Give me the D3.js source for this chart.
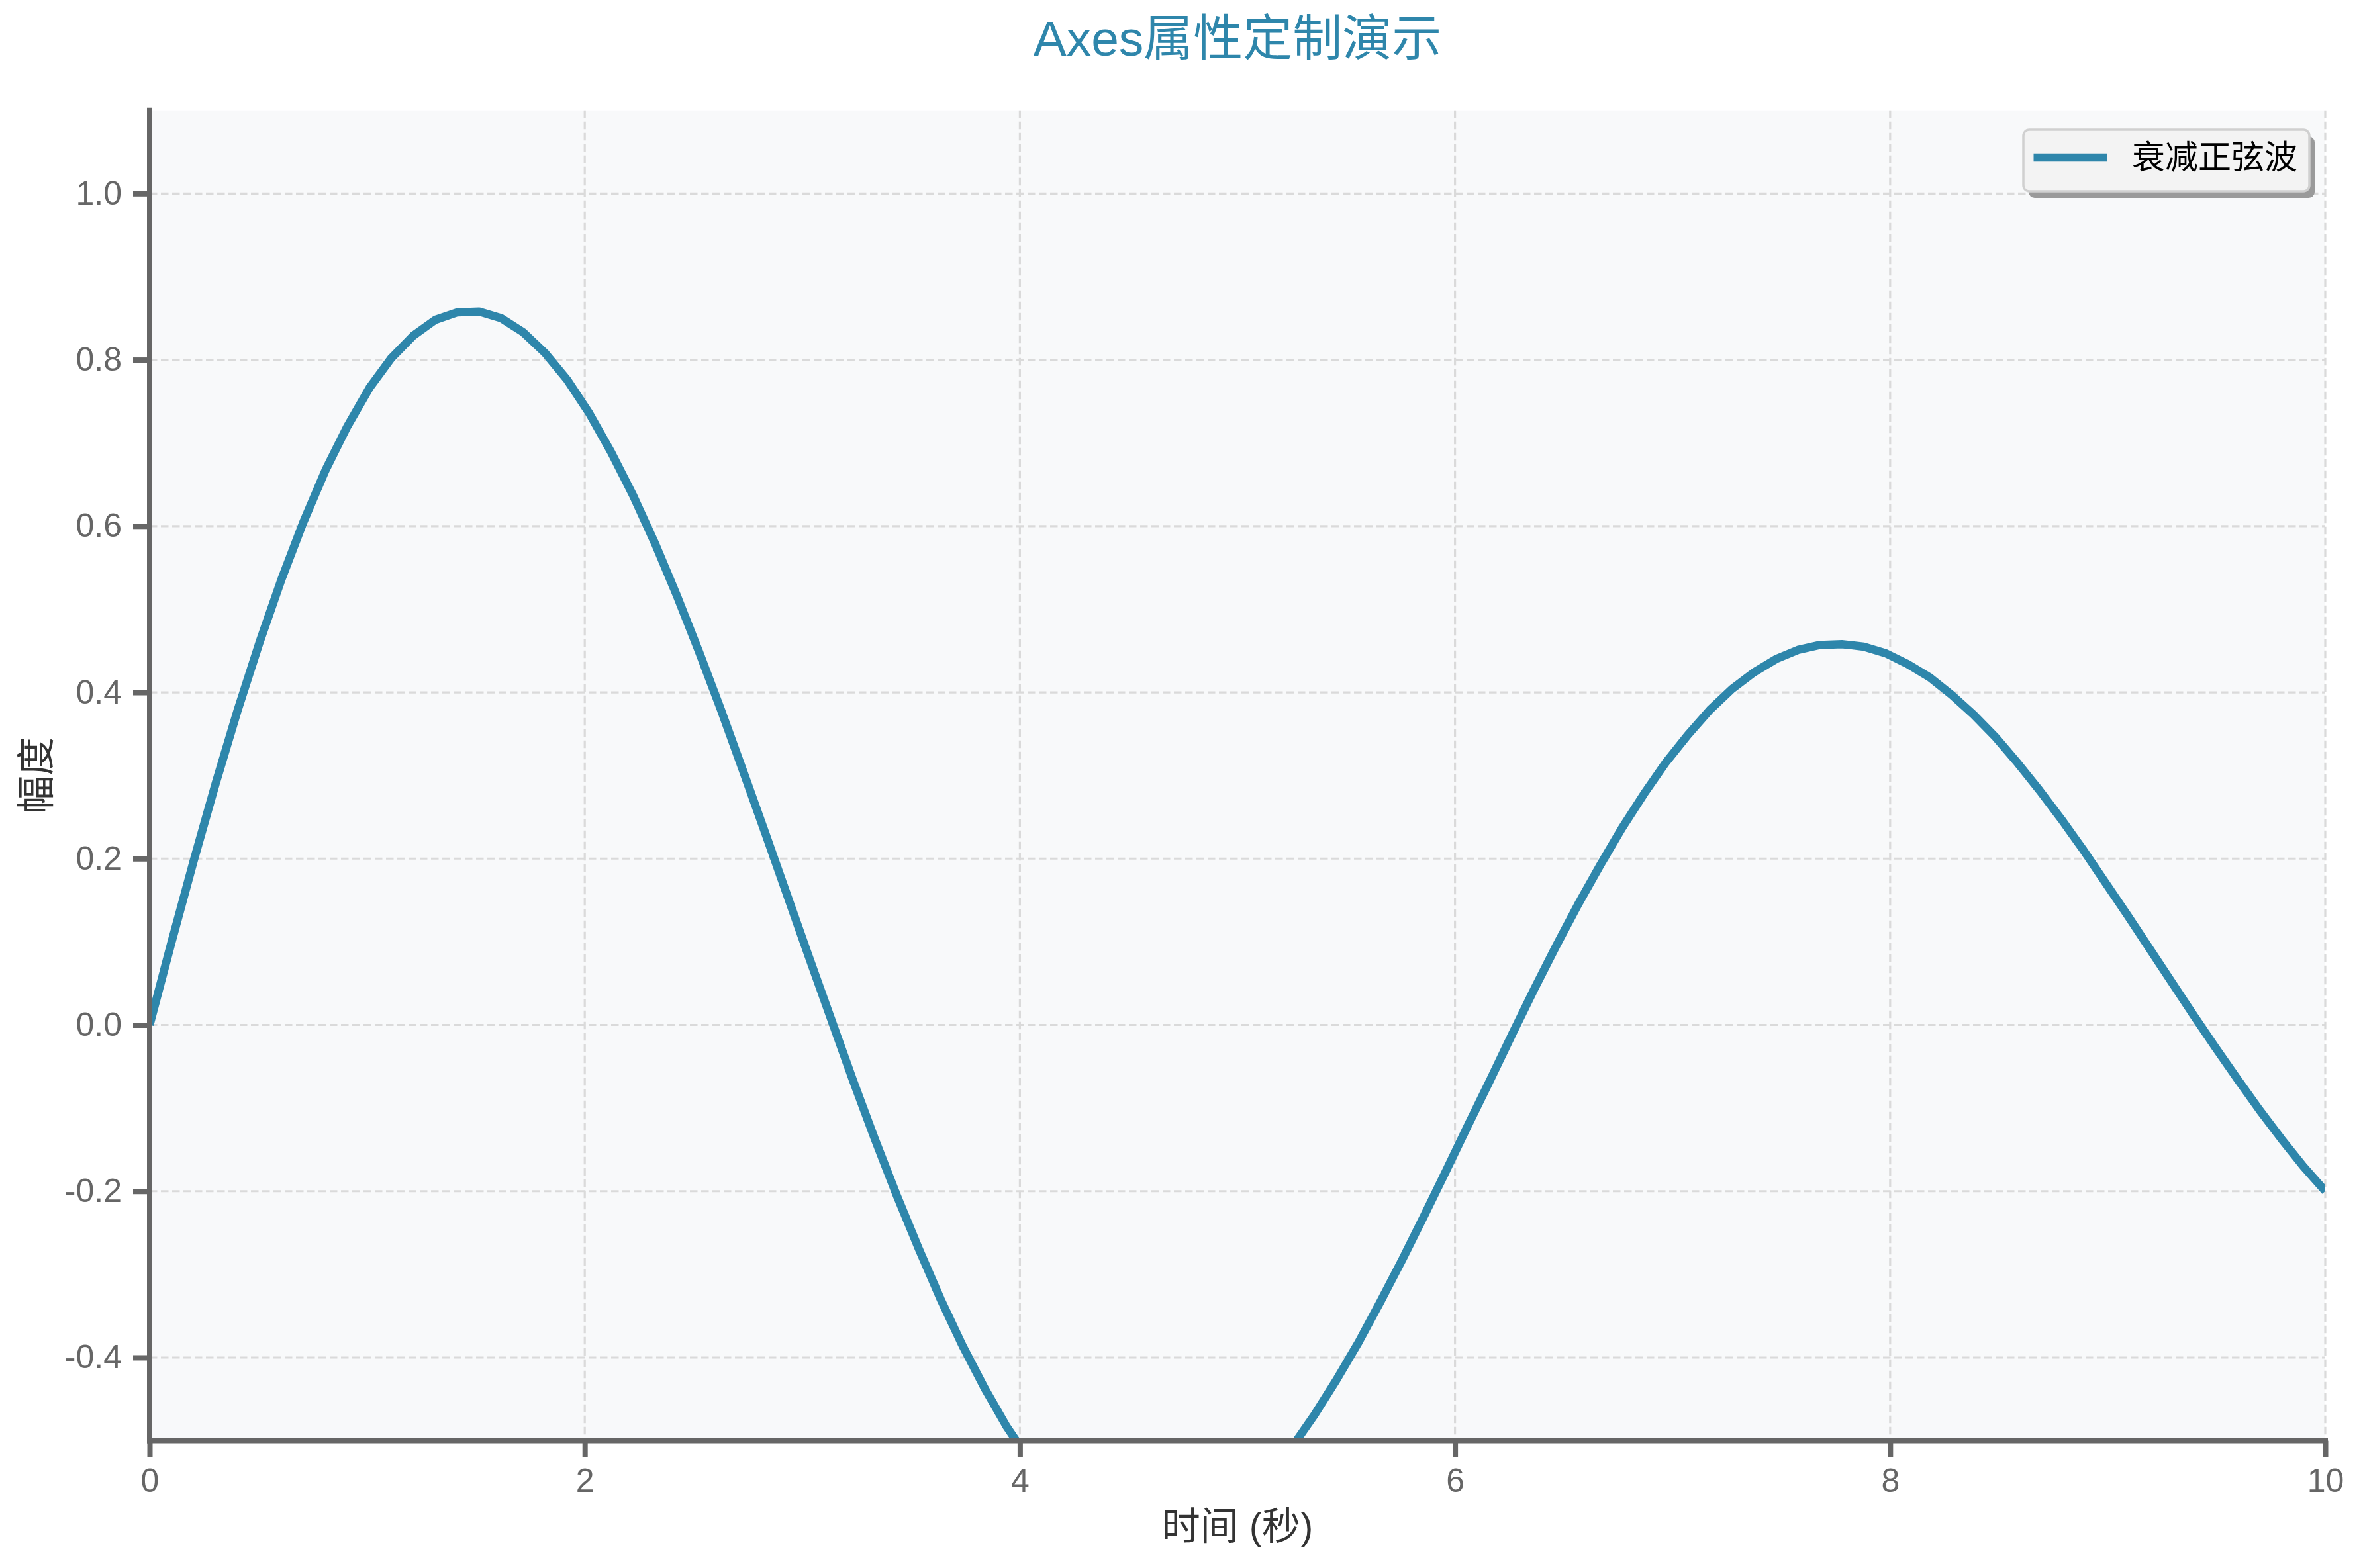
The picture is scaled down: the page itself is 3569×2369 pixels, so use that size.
<!DOCTYPE html>
<html>
<head>
<meta charset="utf-8">
<script src="https://cdn.jsdelivr.net/npm/d3@7"></script>
<style>
  body { margin: 0; background: #ffffff; }
  svg { display: block; }
</style>
</head>
<body>
<script>
// data
var times = [0, 0.101, 0.202, 0.303, 0.404, 0.505, 0.606, 0.707, 0.808, 0.909,
  1.010, 1.111, 1.212, 1.313, 1.414, 1.515, 1.616, 1.717, 1.818, 1.919,
  2.020, 2.121, 2.222, 2.323, 2.424, 2.525, 2.626, 2.727, 2.828, 2.929,
  3.030, 3.131, 3.232, 3.333, 3.434, 3.535, 3.636, 3.737, 3.838, 3.939,
  4.040, 4.141, 4.242, 4.343, 4.444, 4.545, 4.646, 4.747, 4.848, 4.949,
  5.051, 5.152, 5.253, 5.354, 5.455, 5.556, 5.657, 5.758, 5.859, 5.960,
  6.061, 6.162, 6.263, 6.364, 6.465, 6.566, 6.667, 6.768, 6.869, 6.970,
  7.071, 7.172, 7.273, 7.374, 7.475, 7.576, 7.677, 7.778, 7.879, 7.980,
  8.081, 8.182, 8.283, 8.384, 8.485, 8.586, 8.687, 8.788, 8.889, 8.990,
  9.091, 9.192, 9.293, 9.394, 9.495, 9.596, 9.697, 9.798, 9.899, 10];
var amplitude = [0.000, 0.100, 0.197, 0.290, 0.378, 0.460, 0.536, 0.605, 0.667, 0.720,
  0.766, 0.802, 0.829, 0.848, 0.857, 0.858, 0.850, 0.833, 0.808, 0.776,
  0.736, 0.689, 0.637, 0.579, 0.516, 0.449, 0.379, 0.306, 0.232, 0.157,
  0.082, 0.008, -0.066, -0.137, -0.205, -0.269, -0.330, -0.386, -0.437, -0.483,
  -0.522, -0.556, -0.583, -0.604, -0.618, -0.626, -0.627, -0.622, -0.610, -0.593,
  -0.569, -0.541, -0.507, -0.469, -0.427, -0.382, -0.333, -0.282, -0.229, -0.175,
  -0.120, -0.066, -0.011, 0.043, 0.095, 0.145, 0.192, 0.237, 0.278, 0.316,
  0.349, 0.379, 0.404, 0.424, 0.440, 0.451, 0.457, 0.458, 0.455, 0.447,
  0.434, 0.418, 0.397, 0.373, 0.346, 0.315, 0.282, 0.247, 0.210, 0.171,
  0.132, 0.092, 0.052, 0.012, -0.027, -0.065, -0.102, -0.137, -0.170, -0.200];
var xTicks = [0, 2, 4, 6, 8, 10];
var yTicks = [-0.4, -0.2, 0.0, 0.2, 0.4, 0.6, 0.8, 1.0];
var seriesName = "衰减正弦波";
var titleText = "Axes属性定制演示";
var xLabel = "时间 (秒)";
var yLabel = "幅度";

var W = 3569, H = 2369;
var plotL = 226, plotR = 3512, plotT = 166.7, plotB = 2176.6;
var blue = "#2E86AB";
var spineCol = "#666666";
var font = "'Liberation Sans', Arial, 'Noto Sans CJK SC', sans-serif";

var x = d3.scaleLinear().domain([0, 10]).range([plotL, plotR]);
var y = d3.scaleLinear().domain([-0.5, 1.1]).range([plotB, plotT]);

var svg = d3.select("body")
  .append("svg")
  .attr("width", W)
  .attr("height", H);

svg.append("rect")
  .attr("width", W)
  .attr("height", H)
  .attr("fill", "#ffffff");

svg.append("defs")
  .append("clipPath")
  .attr("id", "plotclip")
  .append("rect")
  .attr("x", plotL)
  .attr("y", plotT)
  .attr("width", plotR - plotL)
  .attr("height", plotB - plotT);

//背景
svg.append("rect")
  .attr("x", plotL)
  .attr("y", plotT)
  .attr("width", plotR - plotL)
  .attr("height", plotB - plotT)
  .attr("fill", "#F8F9FA");

//グリッド
var grid = svg.append("g");
grid.selectAll("line.gy")
  .data(yTicks)
  .enter()
  .append("line")
  .attr("class", "gy")
  .attr("x1", plotL)
  .attr("x2", plotR)
  .attr("y1", function (d) { return y(d); })
  .attr("y2", function (d) { return y(d); });
grid.selectAll("line.gx")
  .data(xTicks)
  .enter()
  .append("line")
  .attr("class", "gx")
  .attr("x1", function (d) { return x(d); })
  .attr("x2", function (d) { return x(d); })
  .attr("y1", plotT)
  .attr("y2", plotB);
grid.selectAll("line")
  .attr("stroke", "#dadada")
  .attr("stroke-width", 3.2)
  .attr("stroke-dasharray", "11.5,5.5");

//曲線
var line = d3.line()
  .x(function (d, i) { return x(times[i]); })
  .y(function (d) { return y(d); });
svg.append("path")
  .datum(amplitude)
  .attr("clip-path", "url(#plotclip)")
  .attr("d", line)
  .attr("fill", "none")
  .attr("stroke", blue)
  .attr("stroke-width", 12.5)
  .attr("stroke-linejoin", "round")
  .attr("stroke-linecap", "butt");

//軸
var xAxis = d3.axisBottom(x)
  .tickValues(xTicks)
  .tickSize(25)
  .tickPadding(14)
  .tickFormat(d3.format("d"));
var gx = svg.append("g")
  .attr("transform", "translate(0," + plotB + ")")
  .call(xAxis);

var yAxis = d3.axisLeft(y)
  .tickValues(yTicks)
  .tickSize(25)
  .tickPadding(17)
  .tickFormat(function (d) { return d3.format(".1f")(d).replace("−", "-"); });
var gy = svg.append("g")
  .attr("transform", "translate(" + plotL + ",0)")
  .call(yAxis);

[gx, gy].forEach(function (g) {
  g.select(".domain").remove();
  g.selectAll(".tick line")
    .attr("stroke", spineCol)
    .attr("stroke-width", 8);
  g.selectAll(".tick text")
    .attr("fill", spineCol)
    .attr("font-family", font)
    .attr("font-size", "50px");
});
gx.selectAll(".tick text").attr("dy", "0.76em");

//スパイン
svg.append("line")
  .attr("x1", plotL)
  .attr("x2", plotL)
  .attr("y1", plotT - 4)
  .attr("y2", plotB + 4)
  .attr("stroke", spineCol)
  .attr("stroke-width", 8);
svg.append("line")
  .attr("x1", plotL - 4)
  .attr("x2", plotR + 4)
  .attr("y1", plotB)
  .attr("y2", plotB)
  .attr("stroke", spineCol)
  .attr("stroke-width", 8);

//タイトル・ラベル
svg.append("text")
  .text(titleText)
  .attr("x", (plotL + plotR) / 2)
  .attr("y", 84)
  .attr("text-anchor", "middle")
  .attr("fill", blue)
  .attr("font-family", font)
  .attr("font-size", "75px");

svg.append("text")
  .text(xLabel)
  .attr("x", (plotL + plotR) / 2)
  .attr("y", 2305)
  .attr("text-anchor", "middle")
  .attr("dominant-baseline", "central")
  .attr("fill", "#333333")
  .attr("font-family", font)
  .attr("font-size", "58px");

svg.append("text")
  .text(yLabel)
  .attr("transform", "translate(54," + (plotT + plotB) / 2 + ") rotate(-90)")
  .attr("text-anchor", "middle")
  .attr("dominant-baseline", "central")
  .attr("fill", "#333333")
  .attr("font-family", font)
  .attr("font-size", "58px");

//凡例
var lg = svg.append("g").attr("transform", "translate(3056,196)");
var lgW = 432, lgH = 93;
lg.append("rect")
  .attr("x", 8)
  .attr("y", 10)
  .attr("width", lgW)
  .attr("height", lgH)
  .attr("rx", 9)
  .attr("fill", "#9a9a9a");
lg.append("rect")
  .attr("width", lgW)
  .attr("height", lgH)
  .attr("rx", 9)
  .attr("fill", "#f3f3f3")
  .attr("stroke", "#d0d0d0")
  .attr("stroke-width", 3.5);
lg.append("line")
  .attr("x1", 15.5)
  .attr("x2", 127)
  .attr("y1", 42)
  .attr("y2", 42)
  .attr("stroke", blue)
  .attr("stroke-width", 12.5);
lg.append("text")
  .text(seriesName)
  .attr("x", 164)
  .attr("y", 42)
  .attr("dominant-baseline", "central")
  .attr("fill", "#000000")
  .attr("font-family", font)
  .attr("font-size", "50px");
</script>
</body>
</html>
